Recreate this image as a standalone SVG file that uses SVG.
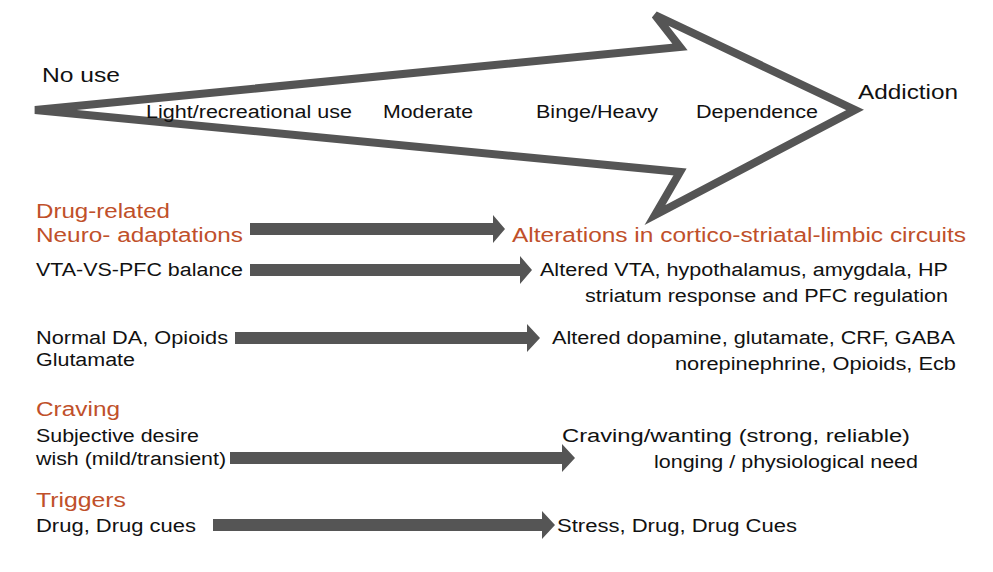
<svg xmlns="http://www.w3.org/2000/svg" width="993" height="572" viewBox="0 0 993 572">
<style>
text{font-family:"Liberation Sans",Arial,sans-serif;font-size:18px;fill:#111}
.o{fill:#c0502a;font-size:20px}
.big{font-size:20px}
.a{fill:#555}
</style>
<rect width="993" height="572" fill="#fff"/>
<g id="progress">
<polygon points="35,110 680,47 655,15 855,110 655,215 680,172" fill="#fff" stroke="#555" stroke-width="8" stroke-linejoin="miter"/>
<text x="42" y="82" class="big" textLength="78" lengthAdjust="spacingAndGlyphs">No use</text>
<text x="146" y="118" textLength="206" lengthAdjust="spacingAndGlyphs">Light/recreational use</text>
<text x="383" y="118" textLength="90" lengthAdjust="spacingAndGlyphs">Moderate</text>
<text x="536" y="118" textLength="122" lengthAdjust="spacingAndGlyphs">Binge/Heavy</text>
<text x="696" y="118" textLength="122" lengthAdjust="spacingAndGlyphs">Dependence</text>
<text x="858" y="99" class="big" textLength="100" lengthAdjust="spacingAndGlyphs">Addiction</text>
</g>
<g id="labels-left">
<text x="36" y="218" class="o" textLength="134" lengthAdjust="spacingAndGlyphs">Drug-related</text>
<text x="36" y="242" class="o" textLength="207" lengthAdjust="spacingAndGlyphs">Neuro- adaptations</text>
<text x="36" y="276" textLength="207" lengthAdjust="spacingAndGlyphs">VTA-VS-PFC balance</text>
<text x="36" y="344" textLength="192" lengthAdjust="spacingAndGlyphs">Normal DA, Opioids</text>
<text x="36" y="366" textLength="99" lengthAdjust="spacingAndGlyphs">Glutamate</text>
<text x="36" y="416" class="o" textLength="84" lengthAdjust="spacingAndGlyphs">Craving</text>
<text x="36" y="442" textLength="163" lengthAdjust="spacingAndGlyphs">Subjective desire</text>
<text x="36" y="465" textLength="190" lengthAdjust="spacingAndGlyphs">wish (mild/transient)</text>
<text x="36" y="507" class="o" textLength="90" lengthAdjust="spacingAndGlyphs">Triggers</text>
<text x="36" y="532" textLength="160" lengthAdjust="spacingAndGlyphs">Drug, Drug cues</text>
</g>
<g id="labels-right">
<text x="512" y="242" class="o" textLength="454" lengthAdjust="spacingAndGlyphs">Alterations in cortico-striatal-limbic circuits</text>
<text x="540" y="276" textLength="408" lengthAdjust="spacingAndGlyphs">Altered VTA, hypothalamus, amygdala, HP</text>
<text x="585" y="302" textLength="363" lengthAdjust="spacingAndGlyphs">striatum response and PFC regulation</text>
<text x="552" y="344" textLength="403" lengthAdjust="spacingAndGlyphs">Altered dopamine, glutamate, CRF, GABA</text>
<text x="675" y="370" textLength="281" lengthAdjust="spacingAndGlyphs">norepinephrine, Opioids, Ecb</text>
<text x="562" y="442" textLength="348" lengthAdjust="spacingAndGlyphs">Craving/wanting (strong, reliable)</text>
<text x="654" y="468" textLength="264" lengthAdjust="spacingAndGlyphs">longing / physiological need</text>
<text x="557" y="532" textLength="240" lengthAdjust="spacingAndGlyphs">Stress, Drug, Drug Cues</text>
</g>
<g id="connectors" class="a">
<polygon points="250,223 493,223 493,215 505,229 493,243 493,235 250,235"/>
<polygon points="250,264 520,264 520,256 532,270 520,284 520,276 250,276"/>
<polygon points="235,332 527,332 527,324 540,338 527,352 527,344 235,344"/>
<polygon points="230,452 562,452 562,444 575,458 562,472 562,464 230,464"/>
<polygon points="213,519 542,519 542,511 555,525 542,539 542,531 213,531"/>
</g>
</svg>
